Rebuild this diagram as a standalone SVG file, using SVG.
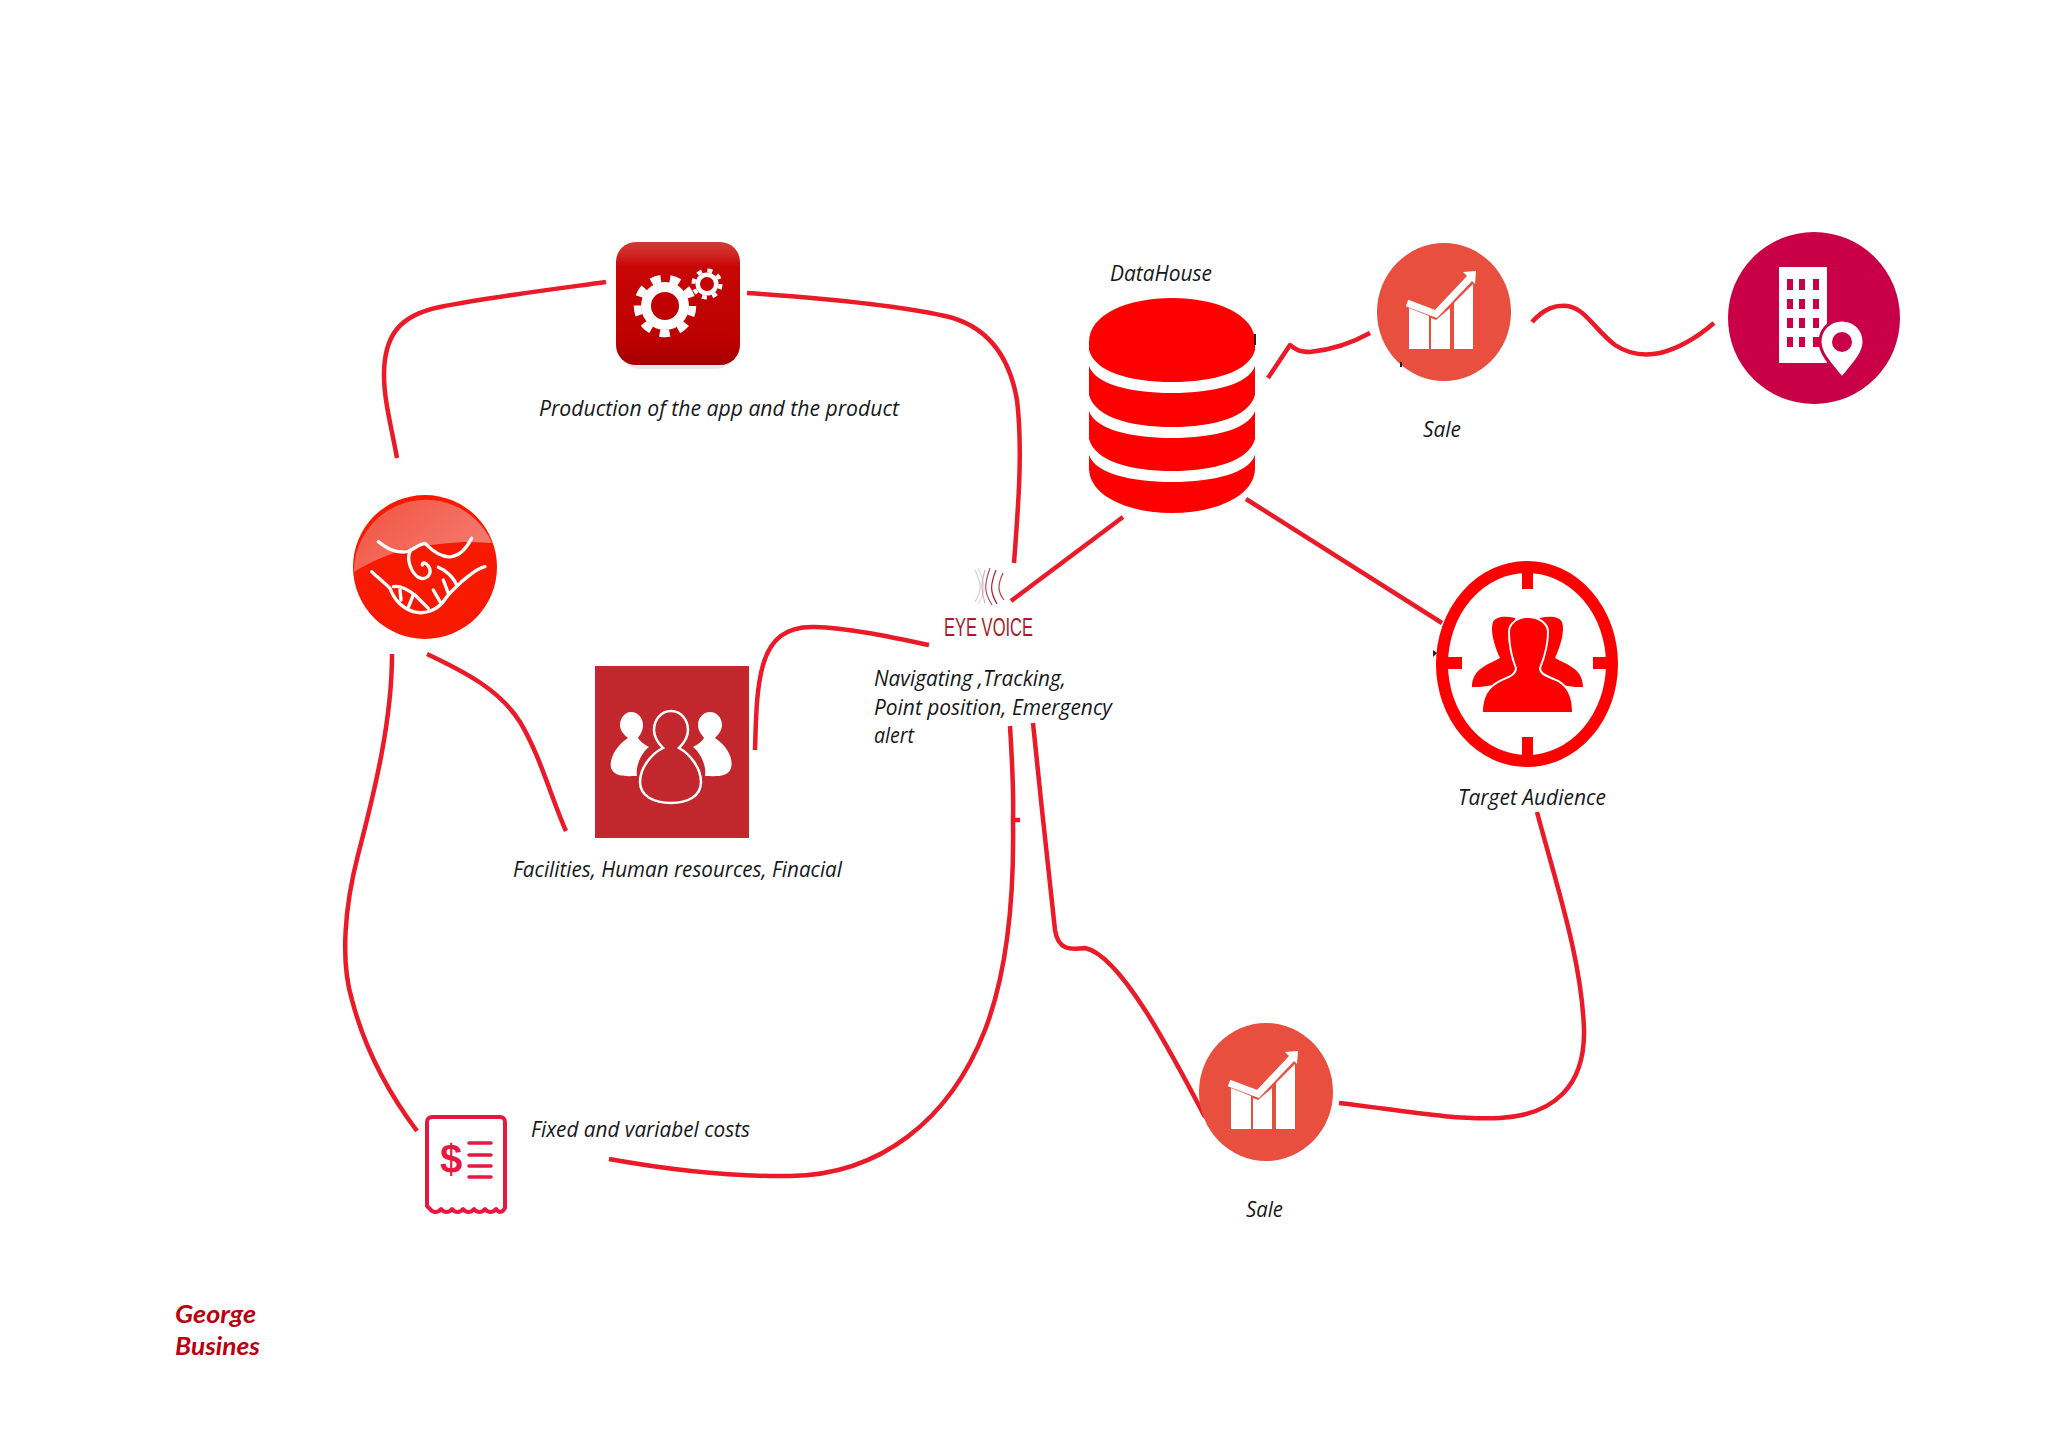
<svg xmlns="http://www.w3.org/2000/svg" xmlns:xlink="http://www.w3.org/1999/xlink" width="2048" height="1449" viewBox="0 0 2048 1449">
<style>
.lab{font-family:"Open Sans","Noto Sans","Liberation Sans",sans-serif;font-style:italic;font-size:21px;fill:#16181c}
.brand{font-family:"Lato","Liberation Sans",sans-serif;font-style:italic;font-weight:700;font-size:25px;fill:#bb0010}
.c{fill:none;stroke:#ea1a28;stroke-width:4.5;stroke-linecap:butt;stroke-linejoin:round}
.w{fill:none;stroke:#fff;stroke-linecap:round;stroke-linejoin:round}
.red{fill:#fe0000}
</style>
<defs>
<linearGradient id="gearBg" x1="0" y1="0" x2="0" y2="1">
<stop offset="0" stop-color="#d23a34"/><stop offset="0.1" stop-color="#cf2622"/><stop offset="0.2" stop-color="#c80606"/><stop offset="0.8" stop-color="#bc0000"/><stop offset="1" stop-color="#a40000"/>
</linearGradient>
<linearGradient id="shine" x1="0" y1="0" x2="1" y2="0.6">
<stop offset="0" stop-color="#f2523f"/><stop offset="1" stop-color="#f57a6e"/>
</linearGradient>
<g id="saleIcon">
<polygon points="1231,1088 1251,1096 1251,1129 1231,1129" fill="#fff"/>
<polygon points="1253,1098 1258,1100 1272,1088 1272,1129 1253,1129" fill="#fff"/>
<polygon points="1276,1083 1295,1064 1295,1129 1276,1129" fill="#fff"/>
<polyline points="1229,1083 1258,1094 1292,1058" fill="none" stroke="#fff" stroke-width="7"/>
<polygon points="1285,1052 1298,1051 1297,1064" fill="#fff"/>
</g>
<path id="dbBand" d="M1089,350 C1095,372 1130,382 1172,382 C1214,382 1249,372 1255,350 V366 C1249,384 1214,393 1172,393 C1130,393 1095,384 1089,366Z" fill="#fff"/>
</defs>
<rect width="2048" height="1449" fill="#fff"/>

<g id="connectors">
<path class="c" d="M606,282 C555,289 490,297 440,307 C400,315 384,335 384,375 C384,400 391,425 397,458"/>
<path class="c" d="M747,293 C820,298 895,305 945,316 C990,326 1010,360 1017,400 C1023,450 1018,510 1014,563"/>
<path class="c" d="M1123,517 L1011,601"/>
<path class="c" d="M929,645 C895,638 850,628 815,627 C785,626 770,640 763,665 C756,690 756,720 755,750"/>
<path class="c" d="M427,654 C465,672 500,690 520,722 C540,755 552,800 566,831"/>
<path class="c" d="M392,654 C392,720 375,790 358,855 C345,905 340,960 352,1000 C365,1050 390,1095 417,1131"/>
<path class="c" d="M609,1159 C670,1170 730,1177 790,1176 C880,1175 950,1120 985,1030 C1010,965 1014,880 1013,820 C1014,790 1012,760 1010,726"/>
<path class="c" d="M1011,820 H1020"/>
<path class="c" d="M1033,723 C1040,790 1048,870 1055,930 C1058,950 1070,950 1085,948 C1120,955 1170,1050 1205,1117"/>
<path class="c" d="M1339,1103 C1400,1110 1450,1120 1500,1118 C1555,1115 1585,1085 1584,1030 C1582,960 1555,880 1537,812"/>
<path class="c" d="M1246,499 L1442,623"/>
<path class="c" d="M1268,378 L1290,345 C1296,350 1300,352 1310,352 C1330,350 1352,343 1370,333"/>
<path class="c" d="M1532,322 C1545,308 1555,305 1567,306 C1585,308 1595,330 1615,345 C1630,355 1645,356 1660,353 C1680,348 1700,335 1714,323"/>
</g>

<g id="node-production">
<rect x="618" y="250" width="120" height="119" rx="22" fill="#ccc" opacity="0.45"/>
<rect x="616" y="242" width="124" height="123" rx="20" fill="url(#gearBg)"/>
<circle cx="665" cy="306" r="24" fill="#fff"/>
<circle cx="665" cy="306" r="27.5" fill="none" stroke="#fff" stroke-width="7.5" stroke-dasharray="10 9.2"/>
<circle cx="665" cy="306" r="14" fill="#c00000"/>
<circle cx="707" cy="284" r="11.5" fill="#fff"/>
<circle cx="707" cy="284" r="13.5" fill="none" stroke="#fff" stroke-width="4" stroke-dasharray="5 5.6"/>
<circle cx="707" cy="284" r="7" fill="#c40404"/>
<text class="lab" x="539" y="416" textLength="360" lengthAdjust="spacingAndGlyphs">Production of the app and the product</text>
</g>

<g id="node-partners">
<circle cx="425" cy="567" r="72" fill="#f81a00"/>
<path d="M354,572 A72,72 0 0 1 492,543 C480,542 470,542 462,542 C440,544 425,545 412,548 C390,553 370,562 354,572Z" fill="url(#shine)"/>
<g transform="translate(345,490) scale(0.3333)">
<g class="w" stroke-width="10">
<path d="M100,155 C125,175 150,190 185,185 C205,180 225,160 240,160 C255,175 290,205 320,200 C350,195 370,165 380,145"/>
<path d="M195,185 C185,205 195,245 220,262 C245,275 265,250 250,228 C242,218 232,215 232,225"/>
<path d="M420,230 C395,235 375,255 350,275 C330,295 310,310 295,335 C275,360 240,375 205,365 C175,355 150,335 135,295 C115,275 95,260 80,245"/>
<path d="M280,232 C300,240 325,260 335,285"/>
<path d="M295,270 L310,310 M265,300 L285,335"/>
<path d="M145,290 C165,285 190,300 210,315 C225,330 240,345 250,355"/>
<path d="M165,300 L168,330 M205,315 L190,352"/>
</g>
</g>
</g>

<g id="node-resources">
<rect x="595" y="666" width="154" height="172" fill="#c1272d"/>
<g fill="#fff">
<path d="M631,712 C638,712 643,718 643,725 C643,731 640,735 638,738 C640,741 643,744 649,747 C643,751 635,765 637,776 C628,776 615,778 611,768 C609,758 617,745 628,738 C623,734 620,730 620,725 C620,718 625,712 631,712Z"/>
<path d="M710,712 C717,712 722,718 722,725 C722,730 719,734 715,738 C726,745 734,758 731,768 C728,778 714,776 705,776 C707,765 699,751 693,747 C699,744 702,741 704,738 C702,735 698,731 698,725 C698,718 703,712 710,712Z"/>
</g>
<path d="M671,711 C681,711 688,720 688,730 C688,738 683,744 679,748 C690,754 701,768 701,782 C701,796 688,803 671,803 C654,803 640,796 640,782 C640,768 651,754 663,748 C659,744 654,738 654,730 C654,720 661,711 671,711Z" fill="none" stroke="#fff" stroke-width="2.5"/>
<text class="lab" x="513" y="877" textLength="329" lengthAdjust="spacingAndGlyphs">Facilities, Human resources, Finacial</text>
</g>

<g id="node-eyevoice">
<g fill="none" stroke-width="1.2">
<path d="M975,570 C982,585 982,590 975,602" stroke="#d2d2d2"/>
<path d="M978,568 C986,585 986,592 978,604" stroke="#dcdcdc"/>
<path d="M985,570 C981,583 981,592 985,603" stroke="#d9b0b6"/>
<path d="M990,568 C984,585 984,592 992,605" stroke="#b5505f"/>
<path d="M996,570 C990,585 990,592 997,604" stroke="#a81c2c"/>
<path d="M1003,573 C997,586 998,592 1004,600" stroke="#b53d4c"/>
</g>
<text x="944" y="636" font-family="'Liberation Sans',sans-serif" font-size="25" fill="#a81c2c" textLength="89" lengthAdjust="spacingAndGlyphs">EYE VOICE</text>
<text class="lab" x="874" y="686" textLength="192" lengthAdjust="spacingAndGlyphs">Navigating ,Tracking,</text>
<text class="lab" x="874" y="715" textLength="238" lengthAdjust="spacingAndGlyphs">Point position, Emergency</text>
<text class="lab" x="874" y="743" textLength="40" lengthAdjust="spacingAndGlyphs">alert</text>
</g>

<g id="node-datahouse">
<path class="red" d="M1089,342 C1089,314 1128,298 1172,298 C1216,298 1255,314 1255,342 V468 C1255,496 1216,513 1172,513 C1128,513 1089,496 1089,468Z"/>
<use xlink:href="#dbBand" href="#dbBand"/>
<use xlink:href="#dbBand" href="#dbBand" y="45"/>
<use xlink:href="#dbBand" href="#dbBand" y="89"/>
<rect x="1254" y="334" width="2" height="11" fill="#222"/>
<text class="lab" x="1110" y="281" textLength="102" lengthAdjust="spacingAndGlyphs">DataHouse</text>
</g>

<g id="node-sale-top">
<ellipse cx="1444" cy="312" rx="67" ry="69" fill="#e84f3f"/>
<use xlink:href="#saleIcon" href="#saleIcon" transform="translate(178,-780)"/>
<rect x="1400" y="362" width="2" height="5" fill="#222"/>
<text class="lab" x="1423" y="437" textLength="38" lengthAdjust="spacingAndGlyphs">Sale</text>
</g>

<g id="node-location">
<ellipse cx="1814" cy="318" rx="86" ry="86" fill="#c90045"/>
<rect x="1779" y="267" width="48" height="96" fill="#fff"/>
<g fill="#c90045">
<rect x="1787" y="279" width="6" height="11"/><rect x="1799" y="279" width="6" height="11"/><rect x="1813" y="279" width="6" height="11"/>
<rect x="1787" y="299" width="6" height="10"/><rect x="1799" y="299" width="6" height="10"/><rect x="1813" y="299" width="6" height="10"/>
<rect x="1787" y="318" width="6" height="10"/><rect x="1799" y="318" width="6" height="10"/><rect x="1813" y="318" width="6" height="10"/>
<rect x="1787" y="337" width="6" height="10"/><rect x="1799" y="337" width="6" height="10"/><rect x="1813" y="337" width="6" height="10"/>
</g>
<path d="M1842,320 C1855,320 1864,330 1864,342 C1864,354 1852,366 1842,378 C1832,366 1820,354 1820,342 C1820,330 1829,320 1842,320Z" fill="#fff" stroke="#c90045" stroke-width="3"/>
<circle cx="1842" cy="342" r="10" fill="#c90045"/>
</g>

<g id="node-target">
<ellipse cx="1527" cy="664" rx="85" ry="97" fill="none" stroke="#fe0000" stroke-width="12"/>
<g class="red">
<rect x="1522" y="570" width="11" height="19"/>
<rect x="1522" y="737" width="11" height="22"/>
<rect x="1445" y="657" width="17" height="12"/>
<rect x="1593" y="657" width="17" height="12"/>
<path d="M1472,687 C1472,668 1490,664 1500,658 C1494,645 1490,630 1493,622 C1496,616 1506,616 1515,618 L1530,680 L1480,687Z"/>
<path d="M1583,687 C1583,668 1565,664 1555,658 C1561,645 1565,630 1562,622 C1559,616 1549,616 1540,618 L1525,680 L1575,687Z"/>
<path d="M1483,712 C1483,698 1488,688 1500,682 C1508,678 1517,676 1517,668 C1513,658 1510,645 1510,632 C1510,624 1518,618 1528,618 C1538,618 1547,624 1547,632 C1547,645 1543,658 1539,668 C1539,676 1550,678 1558,682 C1568,688 1572,698 1572,712Z" stroke="#fff" stroke-width="4" paint-order="stroke"/>
</g>
<path d="M1433,650 L1437,653 L1433,657Z" fill="#222"/>
<text class="lab" x="1458" y="805" textLength="148" lengthAdjust="spacingAndGlyphs">Target Audience</text>
</g>

<g id="node-costs">
<path d="M427,1122 C427,1119 429,1117 432,1117 H500 C503,1117 505,1119 505,1122 V1208 C502,1213 499,1213 496,1209 C493,1213 488,1213 485,1209 C482,1213 477,1213 474,1209 C471,1213 466,1213 463,1209 C460,1213 455,1213 452,1209 C449,1213 444,1213 441,1209 C438,1213 433,1213 430,1209 L427,1206Z" fill="none" stroke="#e8173f" stroke-width="4" stroke-linejoin="round"/>
<text x="451" y="1173" text-anchor="middle" font-family="'Liberation Sans',sans-serif" font-weight="700" font-size="40" fill="#e8173f">$</text>
<path d="M469,1143 H491 M469,1155 H491 M469,1166 H491 M469,1177 H491" stroke="#e8173f" stroke-width="3.5" fill="none" stroke-linecap="round"/>
<text class="lab" x="531" y="1137" textLength="219" lengthAdjust="spacingAndGlyphs">Fixed and variabel costs</text>
</g>

<g id="node-sale-bottom">
<ellipse cx="1266" cy="1092" rx="67" ry="69" fill="#e84f3f"/>
<use xlink:href="#saleIcon" href="#saleIcon"/>
<text class="lab" x="1246" y="1217" textLength="37" lengthAdjust="spacingAndGlyphs">Sale</text>
</g>

<g id="brand">
<text class="brand" x="175" y="1323" textLength="81" lengthAdjust="spacingAndGlyphs">George</text>
<text class="brand" x="175" y="1355" textLength="85" lengthAdjust="spacingAndGlyphs">Busines</text>
</g>
</svg>
